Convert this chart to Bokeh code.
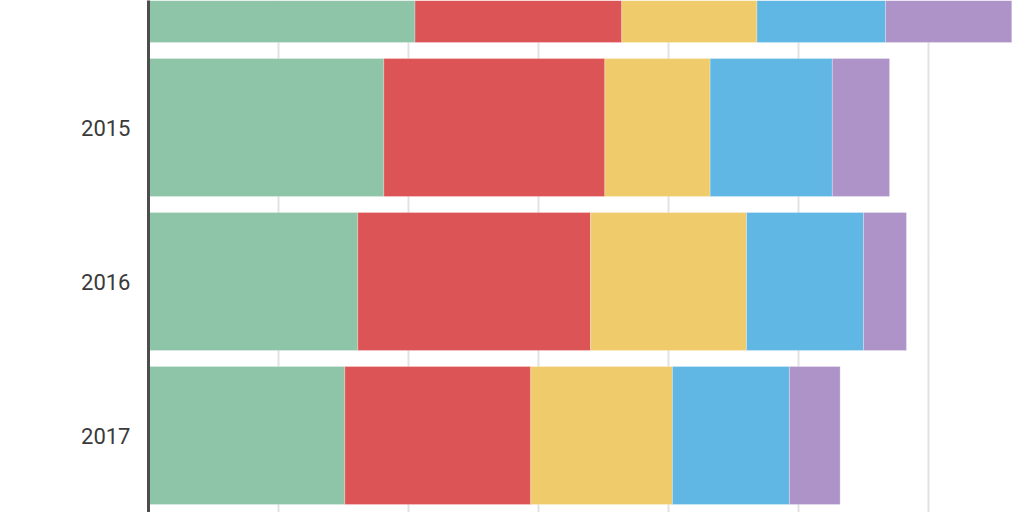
from bokeh.plotting import figure
from bokeh.models import ColumnDataSource, Range1d, FixedTicker, SingleIntervalTicker
from bokeh.embed import file_html
from bokeh.resources import INLINE

# ---- data ----
years = [2014, 2015, 2016, 2017]
year_labels = ["2014", "2015", "2016", "2017"]
series_names = ["s1", "s2", "s3", "s4", "s5"]
s1 = [20.5, 18.1, 16.1, 15.1]
s2 = [15.9, 17.0, 17.9, 14.3]
s3 = [10.4, 8.1, 12.0, 10.9]
s4 = [9.9, 9.4, 9.0, 9.0]
s5 = [9.7, 4.4, 3.3, 3.9]
colors = ["#8ec4a7", "#dd5456", "#efcb6b", "#60b7e4", "#ad93c8"]

source = ColumnDataSource(data=dict(year=years, s1=s1, s2=s2, s3=s3, s4=s4, s5=s5))

p = figure(
    width=1024, height=512,
    x_range=Range1d(0, 67.38),
    y_range=Range1d(2017.5, 2014.1753),
    output_backend="svg", toolbar_location=None,
    min_border_left=148, min_border_right=0, min_border_top=0, min_border_bottom=0,
)

p.hbar_stack(series_names, y="year", height=0.896, color=colors, source=source,
             line_color="white", line_alpha=0.25, line_width=1)

p.xaxis.visible = False
p.outline_line_color = None
p.ygrid.grid_line_color = None
p.xgrid.ticker = SingleIntervalTicker(interval=10)
p.xgrid.grid_line_color = "#e2e2e2"
p.xgrid.grid_line_width = 2

ax = p.yaxis[0]
ax.ticker = FixedTicker(ticks=years)
ax.major_label_overrides = {y: l for y, l in zip(years, year_labels)}
ax.axis_line_color = "#4d4d4d"
ax.axis_line_width = 3
ax.major_tick_line_color = None
ax.minor_tick_line_color = None
ax.major_label_text_font = "Roboto"
ax.major_label_text_font_size = "22px"
ax.major_label_text_color = "#3a3a3a"
ax.major_label_standoff = 12

p.background_fill_color = "white"
p.border_fill_color = "white"

open("out.html", "w").write(file_html(p, INLINE))
